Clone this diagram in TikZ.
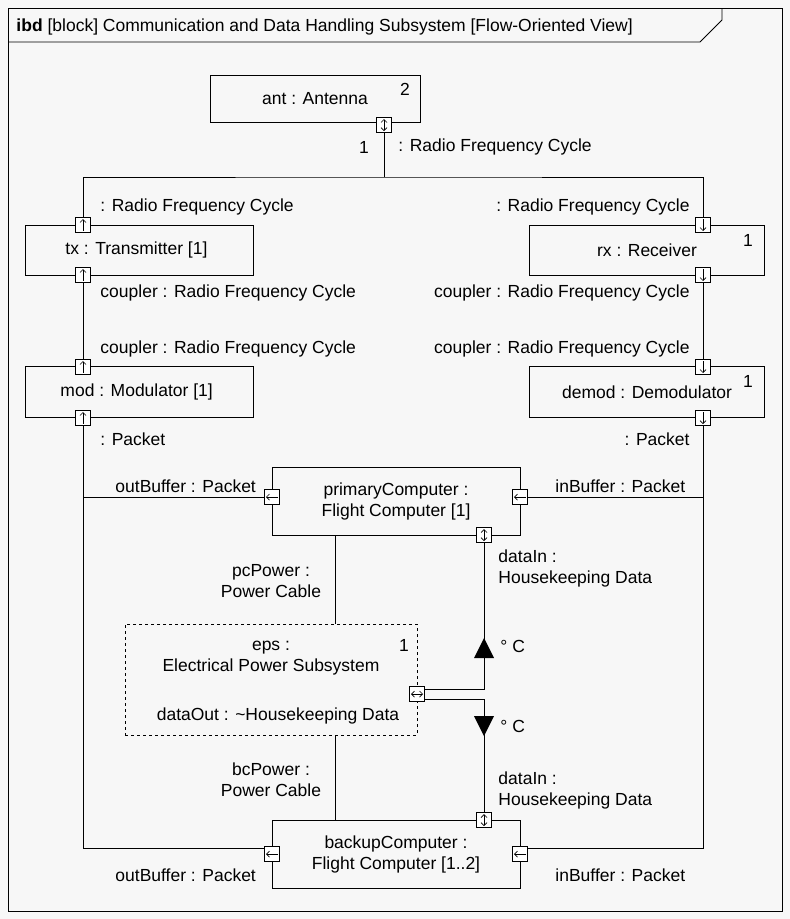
\documentclass[tikz,border=0pt]{standalone}
\usepackage{fontspec}
\setmainfont{Liberation Sans}
\usetikzlibrary{arrows.meta}
\begin{document}
\begin{tikzpicture}[x=1pt,y=-1pt,line width=0.9pt,
  every node/.style={font=\fontsize{17.5}{21}\selectfont},
  blk/.style={draw,minimum height=#1,inner sep=0},
  lbl/.style={inner sep=0,anchor=west},
  port/.style={draw,fill=white,minimum size=15pt,inner sep=0,line width=0.8pt},
  ar/.style={line width=0.7pt,-{Straight Barb[length=3pt,width=6pt]}},
  ar2/.style={line width=0.7pt,{Straight Barb[length=3pt,width=6pt]}-{Straight Barb[length=3pt,width=6pt]}}]
\useasboundingbox (0,0) rectangle (790,919);
\fill[white!97!black] (0,0) rectangle (790,919);
% frame
\draw (8,8) rectangle (782,911);
\draw (8,42) -- (700,42) -- (722,20) -- (722,8);
\node[lbl] (title) at (16,27) {\textbf{ibd} [block] Communication and Data Handling Subsystem [Flow-Oriented View]};
% blocks
\node[blk=47pt,minimum width=210pt] (ant) at (315,99) {ant : Antenna};
\node[inner sep=0] (antm) at (405,89) {2};
\node[blk=50pt,minimum width=228pt] (tx) at (139,250) {};
\node[lbl] (txl) at (65,250) {tx : Transmitter [1]};
\node[blk=51pt,minimum width=228pt] (mod) at (139,392) {};
\node[lbl] (modl) at (60,392) {mod : Modulator [1]};
\node[blk=50pt,minimum width=235pt] (rx) at (647,250) {rx : Receiver};
\node[inner sep=0] (rxm) at (748,240) {1};
\node[blk=51pt,minimum width=235pt] (demod) at (647,392) {demod : Demodulator};
\node[inner sep=0] (demodm) at (748,381) {1};
\node[blk=68pt,minimum width=248pt,align=center] (pc) at (396,501) {primaryComputer :\\Flight Computer [1]};
\node[blk=68pt,minimum width=248pt,align=center] (bc) at (396,854) {backupComputer :\\Flight Computer [1..2]};
\node[draw,dashed,minimum width=292pt,minimum height=111pt,inner sep=0] (eps) at (271,679.5) {};
\node[align=center,inner sep=0] (epsl) at (271,658) {eps :\\Electrical Power Subsystem};
\node[inner sep=0] (epsm) at (404,645) {1};
\node[inner sep=0] (epsd) at (278,716) {dataOut : \textasciitilde Housekeeping Data};
% ports
\node[port] (pant) at (384,125) {}; \draw[ar2] (384,119) -- (384,131);
\node[port] (ptx1) at (83,225) {}; \draw[ar] (83,231) -- (83,219);
\node[port] (ptx2) at (83,275) {}; \draw[ar] (83,281) -- (83,269);
\node[port] (pmod1) at (83,367) {}; \draw[ar] (83,373) -- (83,361);
\node[port] (pmod2) at (83,418) {}; \draw[ar] (83,424) -- (83,412);
\node[port] (prx1) at (703,225) {}; \draw[ar] (703,219) -- (703,231);
\node[port] (prx2) at (703,275) {}; \draw[ar] (703,269) -- (703,281);
\node[port] (pdm1) at (703,367) {}; \draw[ar] (703,361) -- (703,373);
\node[port] (pdm2) at (703,418) {}; \draw[ar] (703,412) -- (703,424);
\node[port] (ppcl) at (272,497) {}; \draw[ar] (278,497) -- (266,497);
\node[port] (ppcr) at (520,497) {}; \draw[ar] (526,497) -- (514,497);
\node[port] (ppcb) at (484,535) {}; \draw[ar2] (484,529) -- (484,541);
\node[port] (pbcl) at (272,854) {}; \draw[ar] (278,854) -- (266,854);
\node[port] (pbcr) at (520,854) {}; \draw[ar] (526,854) -- (514,854);
\node[port] (pbct) at (484,820) {}; \draw[ar2] (484,814) -- (484,826);
\node[port] (peps) at (417,694) {}; \draw[ar2] (411,694) -- (423,694);
% connectors
\coordinate (jn) at (384,177);
\draw (pant) -- (jn);
\draw (ptx1) |- (jn) -| (prx1);
\draw (ptx2) -- (pmod1);
\draw (prx2) -- (pdm1);
\coordinate (bl) at (83,848);
\coordinate (br) at (703,848);
\draw (pmod2) -- (83,497) -- (ppcl);
\draw (83,497) -- (bl) -- (pbcl.west |- bl);
\draw (pdm2) -- (703,497) -- (ppcr);
\draw (703,497) -- (br) -- (pbcr.east |- br);
\draw (335,535) -- (335,624);
\draw (335,735) -- (335,820);
\draw (peps.east |- 0,689) -- (484,689) -- (ppcb);
\draw (peps.east |- 0,699) -- (484,699) -- (pbct);
\fill (484,638) -- (494,658) -- (474,658) -- cycle;
\fill (484,736) -- (494,716) -- (474,716) -- cycle;
% labels
\node[inner sep=0] (l1) at (364,147) {1};
\node[lbl] (l2) at (398,147) {: Radio Frequency Cycle};
\node[lbl] (l3) at (100,207) {: Radio Frequency Cycle};
\node[lbl,anchor=east] (l4) at (690,207) {: Radio Frequency Cycle};
\node[lbl] (l5) at (100,293) {coupler : Radio Frequency Cycle};
\node[lbl,anchor=east] (l6) at (690,293) {coupler : Radio Frequency Cycle};
\node[lbl] (l7) at (100,349) {coupler : Radio Frequency Cycle};
\node[lbl,anchor=east] (l8) at (690,349) {coupler : Radio Frequency Cycle};
\node[lbl] (l9) at (100,439) {: Packet};
\node[lbl,anchor=east] (l10) at (690,439) {: Packet};
\node[lbl] (l11) at (115,486) {outBuffer : Packet};
\node[lbl] (l12) at (555,486) {inBuffer : Packet};
\node[lbl] (l13) at (115,875) {outBuffer : Packet};
\node[lbl] (l14) at (555,875) {inBuffer : Packet};
\node[align=center,inner sep=0] (l15) at (271,581) {pcPower :\\Power Cable};
\node[align=center,inner sep=0] (l16) at (271,780) {bcPower :\\Power Cable};
\node[lbl,align=left] (l17) at (498,568) {dataIn :\\Housekeeping Data};
\node[lbl,align=left] (l18) at (498,790) {dataIn :\\Housekeeping Data};
\node[lbl] (l19) at (500,646) {° C};
\node[lbl] (l20) at (500,726) {° C};
\end{tikzpicture}
\end{document}
